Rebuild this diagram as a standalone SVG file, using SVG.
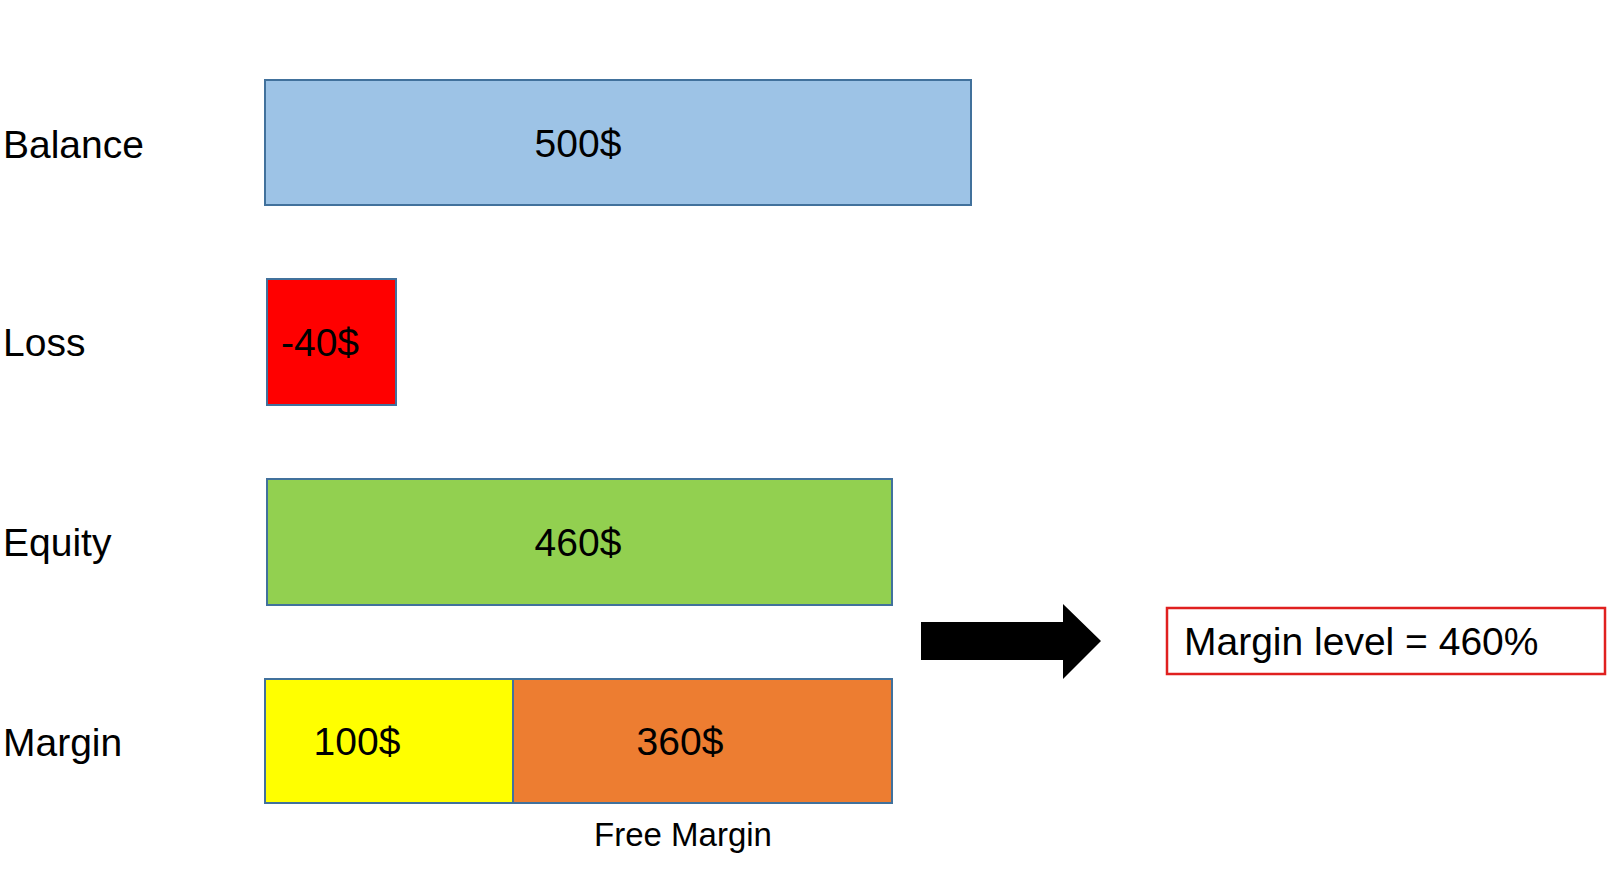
<svg xmlns="http://www.w3.org/2000/svg" width="1613" height="889" viewBox="0 0 1613 889">
<style>
text{font-family:"Liberation Sans",Arial,sans-serif;fill:#000}
.lbl{font-size:39px}
.val{font-size:39px;text-anchor:middle}
.bar{stroke:#41719c;stroke-width:2}
</style>
<rect width="1613" height="889" fill="#fff"/>
<g id="labels">
<text class="lbl" x="3" y="158">Balance</text>
<text class="lbl" x="3" y="356">Loss</text>
<text class="lbl" x="3" y="556">Equity</text>
<text class="lbl" x="3" y="756">Margin</text>
</g>
<g id="balance"><rect class="bar" x="265" y="80" width="706" height="125" fill="#9dc3e6"/><text class="val" x="578" y="157">500$</text></g>
<g id="loss"><rect class="bar" x="267" y="279" width="129" height="126" fill="#ff0000"/><text class="lbl" x="281" y="356">-40$</text></g>
<g id="equity"><rect class="bar" x="267" y="479" width="625" height="126" fill="#92d050"/><text class="val" x="578" y="556">460$</text></g>
<g id="margin"><rect class="bar" x="265" y="679" width="248" height="124" fill="#ffff00"/><text class="val" x="357" y="755">100$</text></g>
<g id="freemargin"><rect class="bar" x="513" y="679" width="379" height="124" fill="#ed7d31"/><text class="val" x="680" y="755">360$</text>
<text x="683" y="846" font-size="33" text-anchor="middle">Free Margin</text></g>
<g id="connectors"><polygon points="921,622 1063,622 1063,604 1101,641 1063,679 1063,660 921,660" fill="#000"/></g>
<g id="marginlevel"><rect x="1167" y="608" width="438" height="66" fill="#fff" stroke="#e0201f" stroke-width="2.5"/><text class="lbl" x="1184" y="655">Margin level = 460%</text></g>
</svg>
